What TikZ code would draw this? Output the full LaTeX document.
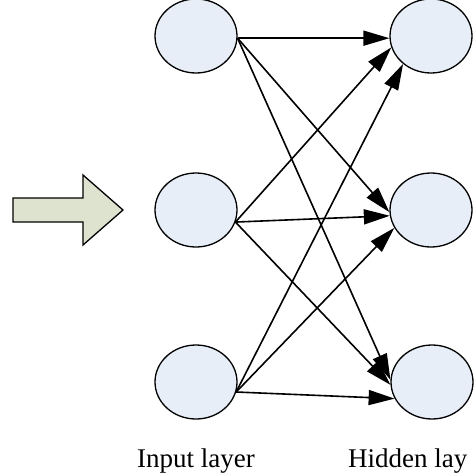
\documentclass[tikz,border=0pt]{standalone}
\usepackage{fontspec}
\setmainfont{Liberation Serif}
\usetikzlibrary{arrows.meta,shapes.geometric}
\definecolor{nodefill}{HTML}{E8EEF8}
\definecolor{arrowfill}{HTML}{DEE3CF}
\tikzset{
  neuron/.style={ellipse, draw=black, line width=1.3pt, fill=nodefill, minimum width=82pt, minimum height=74pt, inner sep=0pt},
  link/.style={line width=1.6pt, -{Triangle[length=26pt,width=15pt]}},
  layerlabel/.style={anchor=base west, inner sep=0pt, font=\fontsize{27}{31}\selectfont},
  bigarrow/.style={draw=black, line width=1.3pt, fill=arrowfill, line join=miter}
}
\begin{document}
\begin{tikzpicture}[x=1pt,y=-1pt]
\useasboundingbox (0,0) rectangle (474,474);
\clip (0,0) rectangle (474,474);
% input arrow
\draw[bigarrow] (13,198) -- (83,198) -- (83,175) -- (123,210) -- (83,245) -- (83,222) -- (13,222) -- cycle;
% neurons
\node[neuron] (i1) at (196,36) {};
\node[neuron] (i2) at (196,210) {};
\node[neuron] (i3) at (196,382) {};
\node[neuron] (h1) at (431,36) {};
\node[neuron] (h2) at (431,210) {};
\node[neuron] (h3) at (432,382) {};
% connections
\draw[link] (i1.-3) -- (h1.183);
\draw[link] (i2.-17) -- (h1.196);
\draw[link] (i3.-14) -- (h1.225);
\draw[link] (i1.-3) -- (h2.183);
\draw[link] (i2.-17) -- (h2.188);
\draw[link] (i3.-14) -- (h2.206);
\draw[link] (i1.-3) -- (h3.177);
\draw[link] (i2.-17) -- (h3.184);
\draw[link] (i3.-14) -- (h3.204);
% labels
\node[layerlabel] (inlabel) at (137,467) {Input layer};
\node[layerlabel] (hidlabel) at (348,467) {Hidden lay};
\end{tikzpicture}
\end{document}
